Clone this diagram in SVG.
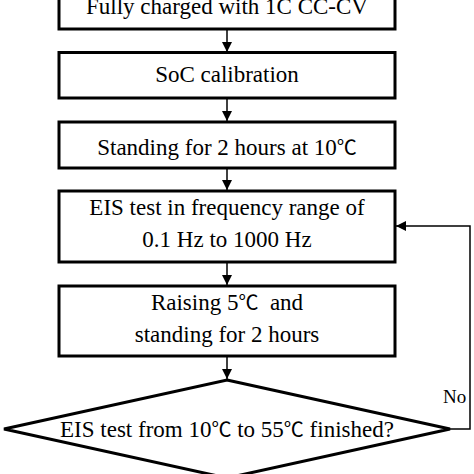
<svg xmlns="http://www.w3.org/2000/svg" width="474" height="474" viewBox="0 0 474 474">
<defs>
<style>
.box{fill:#fff;stroke:#000;stroke-width:3}
.t{font-size:23px;fill:#000;text-anchor:middle}
.lbl{font-size:19px;fill:#000}
.c{fill:none;stroke:#000;stroke-width:1.5}
</style>
<marker id="ah" viewBox="0 0 10 10" refX="10" refY="5" markerWidth="10" markerHeight="10" markerUnits="userSpaceOnUse" orient="auto">
<path d="M0,0 L10,5 L0,10 Z" fill="#000"/>
</marker>
</defs>
<rect width="474" height="474" fill="#fff"/>
<g id="connectors">
<line class="c" x1="227" y1="29" x2="227" y2="52" marker-end="url(#ah)"/>
<line class="c" x1="227" y1="98" x2="227" y2="121" marker-end="url(#ah)"/>
<line class="c" x1="227" y1="168" x2="227" y2="190" marker-end="url(#ah)"/>
<line class="c" x1="227" y1="262" x2="227" y2="285" marker-end="url(#ah)"/>
<line class="c" x1="227" y1="356" x2="227" y2="379" marker-end="url(#ah)"/>
<polyline class="c" points="450,429 470,429 470,226 396,226" marker-end="url(#ah)"/>
<text class="lbl" x="443" y="403" font-family="Liberation Serif">No</text>
</g>
<g id="n1">
<rect class="box" x="59" y="-17" width="336" height="46"/>
<text class="t" x="227" y="14" font-family="Liberation Serif">Fully charged with 1C CC-CV</text>
</g>
<g id="n2">
<rect class="box" x="59" y="52.5" width="336" height="45.5"/>
<text class="t" x="227" y="82" font-family="Liberation Serif">SoC calibration</text>
</g>
<g id="n3">
<rect class="box" x="59" y="122" width="336" height="46"/>
<text class="t" x="227" y="155" font-family="Liberation Serif">Standing for 2 hours at 10<tspan font-family="Noto Sans CJK SC" font-size="20">℃</tspan></text>
</g>
<g id="n4">
<rect class="box" x="59" y="191" width="336" height="71"/>
<text class="t" x="227" y="215" font-family="Liberation Serif">EIS test in frequency range of</text>
<text class="t" x="227" y="247" font-family="Liberation Serif">0.1 Hz to 1000 Hz</text>
</g>
<g id="n5">
<rect class="box" x="59" y="286" width="336" height="70"/>
<text class="t" x="227" y="310" font-family="Liberation Serif" xml:space="preserve">Raising 5<tspan font-family="Noto Sans CJK SC" font-size="20">℃</tspan>  and</text>
<text class="t" x="227" y="342" font-family="Liberation Serif">standing for 2 hours</text>
</g>
<g id="n6">
<polygon class="box" points="227,380 450,429 227,478 4,429"/>
<text class="t" x="227" y="437" font-family="Liberation Serif">EIS test from 10<tspan font-family="Noto Sans CJK SC" font-size="20">℃</tspan> to 55<tspan font-family="Noto Sans CJK SC" font-size="20">℃</tspan> finished?</text>
</g>
</svg>
